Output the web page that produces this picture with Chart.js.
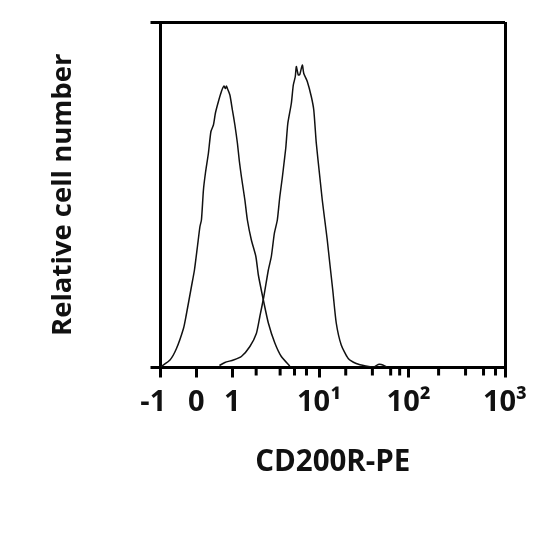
<!DOCTYPE html>
<html lang="en">
<head>
    <meta charset="UTF-8">
    <title>CD200R-PE</title>
    <script src="https://cdn.jsdelivr.net/npm/chart.js"></script>
    <style>
        html, body { margin: 0; background: #fff; }
        .chart-container { width: 540px; height: 540px; }
    </style>
</head>
<body>
    <div class="chart-container"><canvas id="histChart"></canvas></div>
    <script>
        // axis runs in display channels 0-345, biexponential labels sit on top
        const majorTicks = [0, 35.8, 71.8, 158.8, 248.5, 345];
        const majorLabels = ['-1\u2002', '0', '1', '10\u00B9', '10\u00B2', '10\u00B3'];
        const minorTicks = [95.8, 119.8, 134.2, 146.2, 185.5, 212.2, 230.5, 239.5, 278.5, 305.5, 323.5, 335.5];

        const isotypeX = [0, 9.5, 16, 23, 25.5, 31, 34, 37, 39.5, 41, 43, 45, 48, 50.5, 53, 55, 58, 61, 63.5, 65, 66, 67, 69.5, 72, 74.5, 77, 79, 81, 84.5, 87, 91, 95.5, 98, 103, 108, 114.5, 121, 129.5];
        const isotypeY = [0.5, 7.5, 19, 39, 51, 81, 97.5, 121, 141, 147.5, 177.5, 194.5, 214.5, 236, 242.5, 254.5, 266, 276, 281.5, 279, 281.5, 279, 272.5, 257.5, 242.5, 224.5, 206, 191, 167.5, 147.5, 127.5, 111, 92.5, 67.5, 44.5, 24.5, 11, 1.5];
        const stainedX = [59, 64.5, 73, 81, 89.5, 96, 99.5, 103.5, 108, 111, 114, 117, 119.5, 122, 124, 125.5, 127.5, 131, 133, 135, 136, 138, 139.5, 142, 143.5, 147, 151, 153.5, 156, 159.5, 162, 164.5, 167, 169.5, 172.5, 176, 181, 188, 196, 205.5, 213.5, 218, 221, 227];
        const stainedY = [2, 5, 7.5, 11, 21, 34, 51, 71, 97.5, 111, 134, 147.5, 171, 190, 207, 220, 244, 264, 282.5, 291, 301, 292.5, 293, 302.5, 294, 286, 271, 257.5, 224.5, 191, 167.5, 147.5, 127.5, 104.5, 77.5, 44.5, 22.5, 9, 4, 1.5, 0.5, 3, 3, 0.5];

        const yMax = 345.5;
        const toPoints = (xs, ys) => xs.map((x, i) => ({ x: x, y: ys[i] }));

        // shorter minor ticks, tickLength is one value per axis
        const minorTickPlugin = {
            id: 'minorTicks',
            afterDraw(chart) {
                const c = chart.ctx, sx = chart.scales.x;
                c.save();
                c.strokeStyle = '#000';
                c.lineWidth = 3;
                c.beginPath();
                minorTicks.forEach(v => {
                    const px = sx.getPixelForValue(v);
                    c.moveTo(px, chart.chartArea.bottom);
                    c.lineTo(px, chart.chartArea.bottom + 8);
                });
                c.stroke();
                c.restore();
            }
        };

        new Chart(document.getElementById('histChart').getContext('2d'), {
            type: 'line',
            data: {
                datasets: [
                    { data: toPoints(isotypeX, isotypeY), borderColor: '#111', borderWidth: 1.5, pointRadius: 0, tension: 0.2, fill: false },
                    { data: toPoints(stainedX, stainedY), borderColor: '#111', borderWidth: 1.5, pointRadius: 0, tension: 0.2, fill: false }
                ]
            },
            options: {
                responsive: true,
                maintainAspectRatio: false,
                animation: false,
                layout: { autoPadding: false, padding: { left: 47, top: 22, right: 35, bottom: 60 } },
                plugins: { legend: { display: false }, tooltip: { enabled: false } },
                scales: {
                    x: {
                        type: 'linear',
                        min: 0,
                        max: 345,
                        afterBuildTicks: s => { s.ticks = majorTicks.map(v => ({ value: v })); },
                        afterFit: s => { s.height = 112.5; },
                        border: { color: '#000', width: 3 },
                        grid: {
                            color: c => (c.tick && c.tick.value === 345 ? '#000' : 'transparent'),
                            tickColor: '#000',
                            lineWidth: 3,
                            tickLength: 10
                        },
                        ticks: {
                            autoSkip: false,
                            maxRotation: 0,
                            padding: 8,
                            color: '#111',
                            font: { family: "'Open Sans'", size: 29, weight: 'bold' },
                            callback: v => majorLabels[majorTicks.indexOf(v)]
                        },
                        title: { display: true, text: 'CD200R-PE', color: '#111', font: { family: "'Open Sans'", size: 29.5, weight: 'bold' }, padding: 0 }
                    },
                    y: {
                        type: 'linear',
                        min: 0,
                        max: yMax,
                        afterBuildTicks: s => { s.ticks = [{ value: 0 }, { value: yMax }]; },
                        afterFit: s => { s.width = 113.5; },
                        border: { color: '#000', width: 3 },
                        grid: { color: '#000', lineWidth: 3, tickLength: 10 },
                        ticks: { callback: () => '' },
                        title: { display: true, text: 'Relative cell number', color: '#111', font: { family: "'Open Sans'", size: 27.5, weight: 'bold' }, padding: 0 }
                    }
                }
            },
            plugins: [minorTickPlugin]
        });
    </script>
</body>
</html>
